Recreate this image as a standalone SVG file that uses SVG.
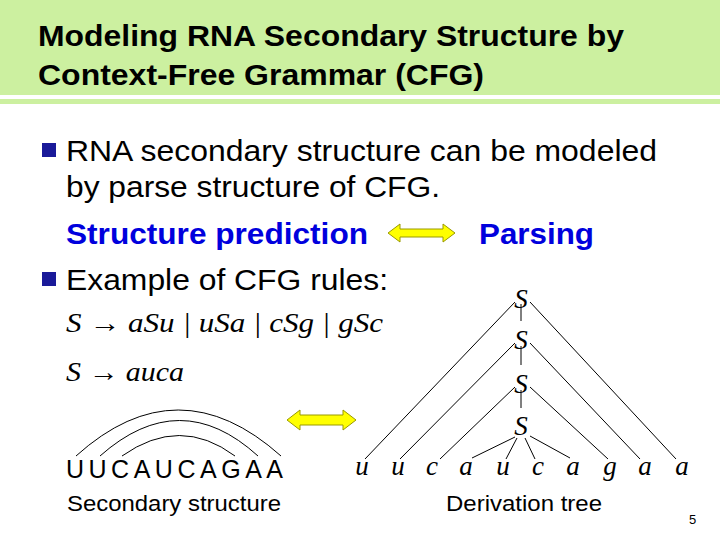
<svg xmlns="http://www.w3.org/2000/svg" width="720" height="540" viewBox="0 0 720 540">
<style>
.t{font-family:"Liberation Sans",Arial,sans-serif}
.m{font-family:"Liberation Serif","DejaVu Serif",serif;font-style:italic;font-size:27px}
.e{stroke:#000;stroke-width:1;fill:none}
.y{fill:#ffff00;stroke:#999900;stroke-width:1}
</style>
<rect x="0" y="0" width="720" height="95" fill="#ccf0a0"/>
<rect x="0" y="99" width="720" height="5" fill="#ccf0a0"/>
<g id="title" class="t" font-size="29" font-weight="bold" fill="#000" lengthAdjust="spacingAndGlyphs">
<text x="38" y="46" textLength="586" lengthAdjust="spacingAndGlyphs">Modeling RNA Secondary Structure by</text>
<text x="38" y="85" textLength="446" lengthAdjust="spacingAndGlyphs">Context-Free Grammar (CFG)</text>
</g>
<g id="bullets" class="t" font-size="30" fill="#000">
<rect x="42" y="143" width="14" height="14" fill="#1a1a99"/>
<text x="66" y="161" textLength="591" lengthAdjust="spacingAndGlyphs">RNA secondary structure can be modeled</text>
<text x="66" y="197" textLength="374" lengthAdjust="spacingAndGlyphs">by parse structure of CFG.</text>
<text x="66" y="244" fill="#0000dd" font-weight="bold" textLength="302" lengthAdjust="spacingAndGlyphs">Structure prediction</text>
<text x="479" y="244" fill="#0000dd" font-weight="bold" textLength="115" lengthAdjust="spacingAndGlyphs">Parsing</text>
<rect x="42" y="272" width="14" height="14" fill="#1a1a99"/>
<text x="66" y="290" textLength="322" lengthAdjust="spacingAndGlyphs">Example of CFG rules:</text>
</g>
<g id="arrow1"><path class="y" d="M388,233 L400,224 L400,229 L443,229 L443,224 L455,233 L443,242 L443,237 L400,237 L400,242 Z"/></g>
<g id="arrow2"><path class="y" d="M287,420 L300,410 L300,415 L343,415 L343,410 L356,420 L343,430 L343,425 L300,425 L300,430 Z"/></g>
<g id="rules">
<text class="m" x="66" y="332" textLength="317" lengthAdjust="spacingAndGlyphs">S → aSu | uSa | cSg | gSc</text>
<text class="m" x="66" y="381" textLength="118" lengthAdjust="spacingAndGlyphs">S → auca</text>
</g>
<g id="secondary">
<text class="t" font-size="25" x="66" y="478" textLength="217" lengthAdjust="spacing">UUCAUCAGAA</text>
<text class="t" font-size="22" x="67" y="511" textLength="214" lengthAdjust="spacingAndGlyphs">Secondary structure</text>
</g>
<g id="connectors">
<path class="e" d="M76,456 Q178,364 281,456"/>
<path class="e" d="M100,456 Q180,385 258,456"/>
<path class="e" d="M122,456 Q180,415 235,456"/>
<line class="e" x1="521" y1="304" x2="521" y2="321"/>
<line class="e" x1="521" y1="346" x2="521" y2="365"/>
<line class="e" x1="521" y1="390" x2="521" y2="408"/>
<line class="e" x1="515" y1="302" x2="365" y2="459"/>
<line class="e" x1="530" y1="302" x2="676" y2="459"/>
<line class="e" x1="515" y1="343" x2="400" y2="459"/>
<line class="e" x1="530" y1="343" x2="640" y2="459"/>
<line class="e" x1="515" y1="387" x2="440" y2="459"/>
<line class="e" x1="530" y1="387" x2="608" y2="459"/>
<line class="e" x1="515" y1="437" x2="472" y2="458"/>
<line class="e" x1="517" y1="438" x2="506" y2="459"/>
<line class="e" x1="525" y1="438" x2="535" y2="459"/>
<line class="e" x1="530" y1="436" x2="570" y2="458"/>
</g>
<g id="tree" class="m" text-anchor="middle">
<text x="521" y="308">S</text>
<text x="521" y="349">S</text>
<text x="521" y="393">S</text>
<text x="521" y="435">S</text>
<text x="362" y="475">u</text><text x="398" y="475">u</text><text x="432" y="475">c</text><text x="466" y="475">a</text><text x="503" y="475">u</text><text x="538" y="475">c</text><text x="573" y="475">a</text><text x="610" y="475">g</text><text x="645" y="475">a</text><text x="682" y="475">a</text>
</g>
<text class="t" font-size="22" x="446" y="511" textLength="156" lengthAdjust="spacingAndGlyphs">Derivation tree</text>
<text class="t" font-size="13" x="689" y="524">5</text>
</svg>
